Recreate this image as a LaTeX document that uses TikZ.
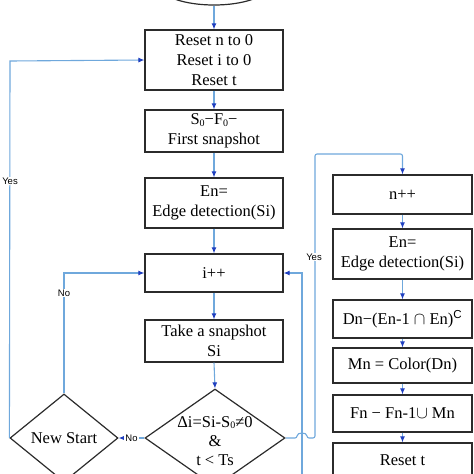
\documentclass[tikz,border=0pt]{standalone}
\usepackage{fontspec}
\setmainfont{Liberation Serif}
\newfontfamily\labfont{Liberation Sans}
\usetikzlibrary{arrows.meta,shapes.geometric}
\definecolor{linec}{HTML}{6FA8DC}
\definecolor{tipc}{HTML}{1F3FBF}
\definecolor{boxc}{HTML}{2B2B2B}
\begin{document}
\begin{tikzpicture}[x=1pt,y=-1pt,
  box/.style={draw=boxc,line width=1.2pt,rectangle,minimum width=138pt,inner sep=0pt,align=center,font=\fontsize{16.5}{20}\selectfont},
  dia/.style={draw=boxc,line width=1.2pt,diamond,inner sep=0pt},
  dtext/.style={align=center,inner sep=0pt,font=\fontsize{16.5}{19}\selectfont},
  conn/.style={draw=linec,line width=1.1pt,-{Latex[length=6pt,width=5pt,color=tipc]}},
  lab/.style={font=\labfont\fontsize{9.5}{10}\selectfont,fill=white,inner sep=1pt}]
\useasboundingbox (0,0) rectangle (474,474);
\clip (0,0) rectangle (474,474);
% start ellipse (cut off)
\node[draw=boxc,line width=1.2pt,ellipse,minimum width=108pt,minimum height=38pt,inner sep=0pt] (start) at (214,-14) {};
% left column
\node[box,minimum height=60pt] (b1) at (214,60) {Reset n to 0\\Reset i to 0\\Reset t};
\node[box,minimum height=42pt] (b2) at (214,131) {S\raisebox{-0.2ex}{\fontsize{10}{10}\selectfont 0}−F\raisebox{-0.2ex}{\fontsize{10}{10}\selectfont 0}−\\First snapshot};
\node[box,minimum height=50pt] (b3) at (214,203) {En=\\Edge detection(Si)};
\node[box,minimum height=38pt] (ipp) at (214,273) {i++};
\node[box,minimum height=42pt] (b5) at (214,341) {Take a snapshot\\Si};
\node[dia,minimum width=140pt,minimum height=98pt] (d2) at (215,438) {};
\node[dtext] (d2t) at (215,441) {Δi=Si-S\raisebox{-0.2ex}{\fontsize{10}{10}\selectfont 0}≠0\\\&\\t < Ts};
\node[dia,minimum width=108pt,minimum height=88pt] (ns) at (64,438) {};
\node[dtext] (nst) at (64,438) {New Start};
% right column
\node[box,minimum width=139pt,minimum height=39pt] (npp) at (402.5,194.5) {n++};
\node[box,minimum width=139pt,minimum height=50pt] (e2) at (402.5,254) {En=\\Edge detection(Si)};
\node[box,minimum width=139pt,minimum height=38pt] (dn) at (402.5,319) {Dn−(En-1 $\cap$ En)\textsuperscript{\labfont C}};
\node[box,minimum width=139pt,minimum height=35pt] (mn) at (402.5,365.5) {Mn = Color(Dn)};
\node[box,minimum width=139pt,minimum height=37pt] (fn) at (402.5,413.5) {Fn − Fn-1$\cup$ Mn};
\node[box,minimum width=139pt,minimum height=34pt] (rt) at (402.5,460) {Reset t};
% connectors
\draw[conn] (start.south) -- (b1.north);
\draw[conn] (b1) -- (b2);
\draw[conn] (b2) -- (b3);
\draw[conn] (b3) -- (ipp);
\draw[conn] (ipp) -- (b5);
\draw[conn] (b5.south) -- (d2.north);
\draw[conn] (d2.west) -- node[lab] (lno1) {No} (ns.east);
\draw[conn] (ns.north) -- (64,273) -- (ipp.west);
\node[lab] (lno2) at (64,293) {No};
\draw[conn] (ns.west) -- (10,61) -- (b1.west);
\node[lab] (lyes1) at (10,181) {Yes};
\coordinate (hopa) at (297,438);
\coordinate (hopb) at (307,438);
\draw[conn,rounded corners=2pt] (d2.east) -- (hopa) .. controls (297,432) and (307,432) .. (hopb) -- (315,438) -- (315,154) -- (402.5,154) -- (npp.north);
\node[lab] (lyes2) at (314,257) {Yes};
\coordinate (bot) at (302,480);
\draw[conn] (bot) -- (302,273) -- (ipp.east);
\draw[conn] (npp) -- (e2);
\draw[conn] (e2) -- (dn);
\draw[conn] (dn) -- (mn);
\draw[conn] (mn) -- (fn);
\draw[conn] (fn) -- (rt);
\end{tikzpicture}
\end{document}
